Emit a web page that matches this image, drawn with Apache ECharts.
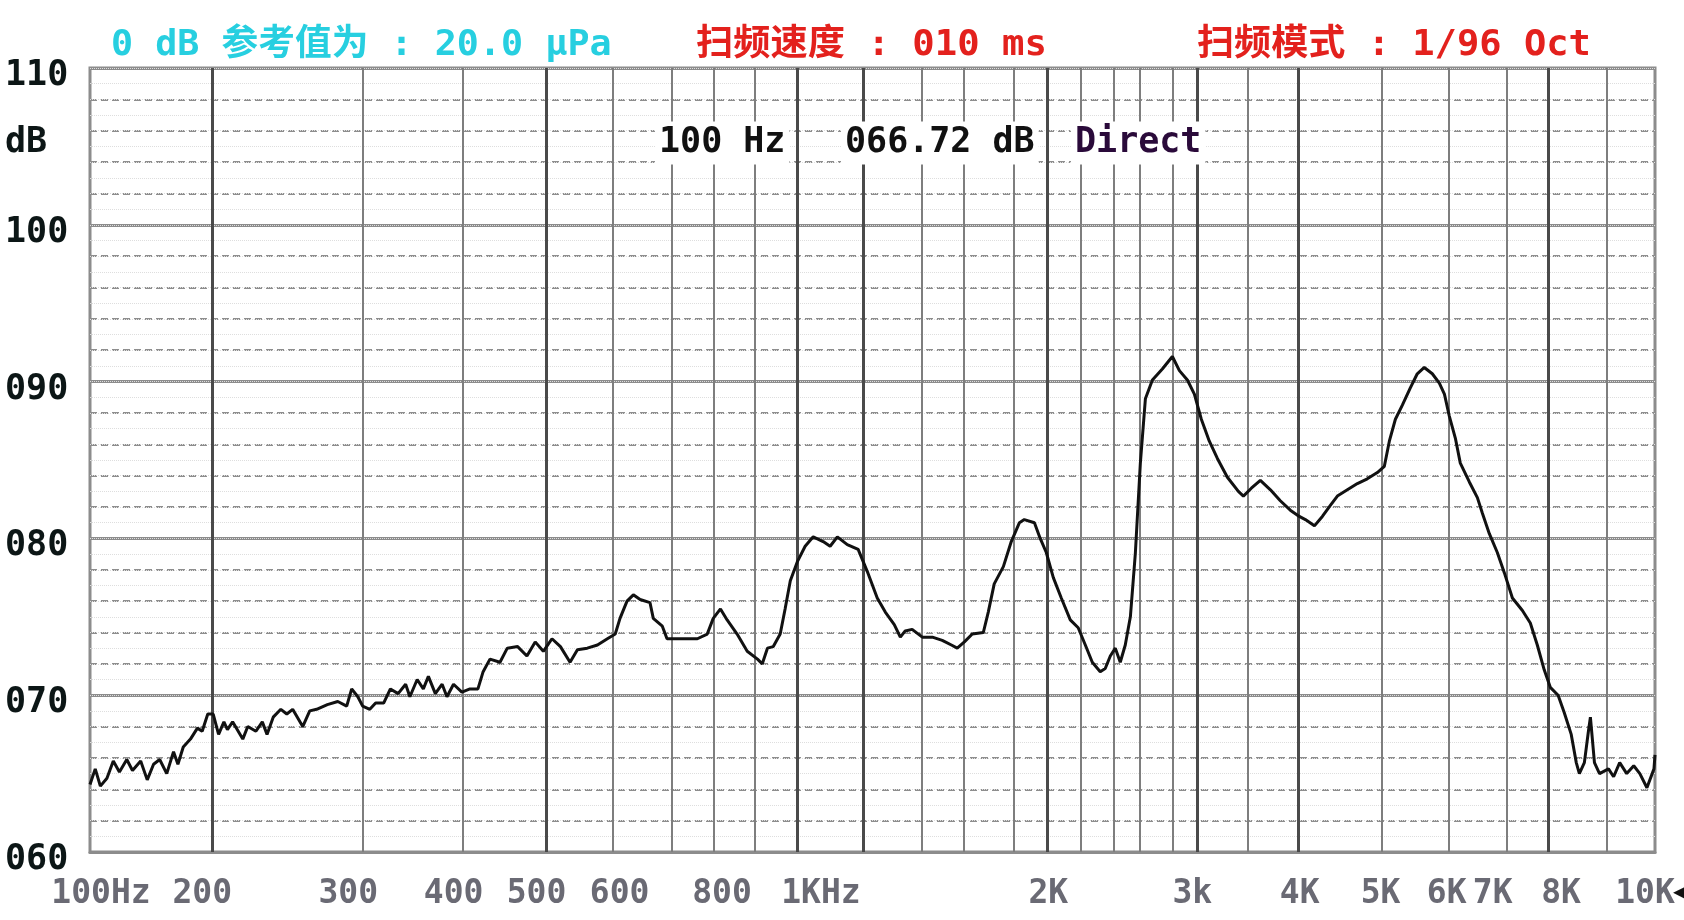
<!DOCTYPE html>
<html><head><meta charset="utf-8">
<script src="https://cdn.jsdelivr.net/npm/echarts@6/dist/echarts.min.js"></script>
<style>html,body{margin:0;padding:0;background:#fff}#c{width:1684px;height:920px}</style>
</head><body><div id="c"></div>
<script>
// Sweep response: [frequency Hz, level dB]
const sweep = [
[100,64.3],[103,65.3],[106,64.2],[110,64.7],[114,65.8],[118,65.1],[123,65.9],[127,65.2],[133,65.8],[138,64.6],
[143,65.6],[148,65.9],[154,65.0],[160,66.4],[164,65.6],[169,66.7],[176,67.2],[183,67.9],[188,67.7],[194,68.8],
[200,68.8],[203,67.5],[206,68.3],[208,67.8],[211,68.3],[217,67.2],[220,68.0],[225,67.7],[229,68.3],[232,67.5],
[236,68.6],[241,69.1],[245,68.8],[249,69.1],[256,68.0],[261,69.0],[266,69.1],[274,69.4],[282,69.6],[289,69.3],
[293,70.4],[298,69.9],[302,69.3],[308,69.1],[313,69.5],[320,69.5],[326,70.4],[333,70.1],[340,70.7],[344,69.9],
[351,71.0],[357,70.4],[362,71.2],[369,70.1],[376,70.7],[381,69.9],[388,70.7],[397,70.2],[406,70.4],[415,70.4],
[421,71.5],[429,72.3],[441,72.1],[450,73.0],[463,73.1],[475,72.5],[486,73.4],[497,72.8],[509,73.6],[521,73.1],
[535,72.1],[546,72.9],[561,73.0],[577,73.2],[593,73.6],[606,73.9],[614,74.9],[626,76.0],[637,76.4],[649,76.1],
[667,75.9],[673,74.9],[690,74.4],[699,73.6],[711,73.6],[739,73.6],[760,73.6],[781,73.9],[794,74.9],[810,75.5],
[825,74.8],[848,73.9],[872,72.8],[897,72.3],[909,72.0],[922,73.0],[937,73.1],[955,73.9],[968,75.5],[982,77.3],
[1001,78.5],[1023,79.5],[1046,80.1],[1075,79.8],[1096,79.5],[1118,80.1],[1149,79.6],[1184,79.3],[1214,77.9],[1248,76.2],
[1276,75.3],[1308,74.5],[1330,73.7],[1348,74.1],[1374,74.2],[1413,73.7],[1453,73.7],[1493,73.5],[1531,73.2],[1556,73.0],
[1587,73.4],[1622,73.9],[1672,74.0],[1695,75.3],[1723,77.1],[1767,78.2],[1806,79.8],[1847,81.0],[1872,81.2],[1925,81.0],
[1956,80.0],[1989,79.1],[2028,77.5],[2073,76.2],[2125,74.8],[2172,74.3],[2215,73.2],[2258,72.1],[2308,71.5],[2340,71.7],
[2373,72.5],[2406,73.0],[2439,72.1],[2473,73.2],[2508,75.0],[2543,79.1],[2578,84.8],[2614,88.9],[2665,90.1],[2739,90.8],
[2816,91.6],[2871,90.7],[2935,90.1],[2992,89.2],[3050,87.6],[3118,86.2],[3188,85.1],[3277,83.9],[3378,83.0],[3425,82.7],
[3501,83.2],[3589,83.7],[3690,83.1],[3792,82.4],[3898,81.8],[3996,81.4],[4063,81.2],[4166,80.8],[4258,81.4],[4353,82.1],
[4438,82.7],[4562,83.1],[4690,83.5],[4820,83.8],[4955,84.2],[5052,84.6],[5122,86.2],[5208,87.6],[5309,88.5],[5427,89.6],
[5532,90.5],[5640,90.9],[5766,90.5],[5879,89.9],[5962,89.2],[6043,87.8],[6144,86.4],[6229,84.8],[6386,83.6],[6529,82.6],
[6620,81.6],[6748,80.3],[6898,79.1],[7034,77.8],[7191,76.2],[7392,75.4],[7555,74.6],[7702,73.2],[7852,71.6],[7983,70.5],
[8122,70.0],[8229,68.9],[8354,67.5],[8445,65.7],[8501,65.0],[8593,65.7],[8668,67.7],[8705,68.6],[8781,65.7],[8877,65.0],
[9050,65.3],[9150,64.8],[9270,65.7],[9411,65.0],[9554,65.5],[9680,65.0],[9828,64.1],[9978,65.3],[10000,66.2]
];
const xTickFreqs  = [100,200,300,400,500,600,800,1000,2000,3000,4000,5000,6000,7000,8000,10000];
const xTickLabels = ['100Hz','200','300','400','500','600','800','1KHz','2K','3k','4K','5K','6K','7K','8K','10K'];
const majorGridFreqs = [100,200,500,1000,1200,2000,3000,4000,8000];
const minorGridFreqs = [300,400,600,700,800,900,1400,1600,1800,2200,2400,2600,2800,3500,5000,6000,7000,9000];
const yMin = 60, yMax = 110, yStep = 10;
const headerRef = '0 dB 参考值为 : 20.0 μPa';
const headerSpeed = '扫频速度 : 010 ms';
const headerMode = '扫频模式 : 1/96 Oct';
const cursorFreq = '100 Hz', cursorLevel = '066.72 dB', cursorMode = 'Direct';

// layout only: horizontal nudge (px) of each x tick label relative to its grid line
const xLabelNudge = [11, -11, -12, -11, -9, 8, 6, 24, 0, -3, 0, 0, 0, -10, 10, -10];

// Analyzer's frequency scale: log10 between 200 Hz and 8 kHz, compressed/stretched end segments
const warpF = [100, 200, 8000, 10000];
const warpU = [Math.log10(142.4), Math.log10(200), Math.log10(8000), Math.log10(10655)];
function U(f) {
  const l = Math.log10(f);
  for (let i = 0; i < warpF.length - 1; i++) {
    const a = Math.log10(warpF[i]), b = Math.log10(warpF[i + 1]);
    if (l <= b || i === warpF.length - 2) {
      return warpU[i] + (l - a) / (b - a) * (warpU[i + 1] - warpU[i]);
    }
  }
}
const MONO = '"DejaVu Sans Mono", "Liberation Mono", monospace';
const FONT = (size) => 'bold ' + size + 'px "DejaVu Sans Mono", "Noto Sans CJK SC", monospace';
const XLAB = { fontSize: 33, fontWeight: 'bold', fontFamily: MONO, color: '#6a6a74' };

const labelIdx = {};
const xRich = {};
xTickFreqs.forEach((f, i) => {
  labelIdx[U(f).toFixed(6)] = i;
  const s = xLabelNudge[i];
  xRich['t' + i] = Object.assign({ padding: s >= 0 ? [0, 0, 0, 2 * s] : [0, -2 * s, 0, 0] }, XLAB);
});

const chart = echarts.init(document.getElementById('c'));
const gridLines = [
  ...minorGridFreqs.map(f => ({ xAxis: U(f), lineStyle: { color: '#7e7e7e', width: 2, type: 'solid' } })),
  ...majorGridFreqs.map(f => ({ xAxis: U(f), lineStyle: { color: '#4a4a4a', width: 3, type: 'solid' } }))
];
chart.setOption({
  animation: false,
  backgroundColor: '#fff',
  grid: { left: 90, right: 29, top: 68, bottom: 68, show: true, borderColor: '#8c8c8c', borderWidth: 3 },
  xAxis: {
    type: 'value', min: U(100), max: U(10000),
    axisLine: { show: true, lineStyle: { color: '#8c8c8c', width: 3 } },
    axisTick: { show: false },
    splitLine: { show: false },
    axisLabel: Object.assign({
      customValues: xTickFreqs.map(U),
      margin: 26,
      formatter: v => {
        const i = labelIdx[Number(v).toFixed(6)];
        return i === undefined ? '' : '{t' + i + '|' + xTickLabels[i] + '}';
      },
      rich: xRich
    }, XLAB)
  },
  yAxis: [{
    type: 'value', min: yMin, max: yMax, interval: yStep,
    axisLine: { show: false }, axisTick: { show: false },
    axisLabel: {
      align: 'left', margin: 85, verticalAlign: 'top', lineHeight: 16,
      fontSize: 35, fontWeight: 'bold', fontFamily: MONO, color: '#0c1616',
      formatter: v => String(v).padStart(3, '0')
    },
    splitLine: { show: true, lineStyle: { color: '#8c8c8c', width: 3 } },
    minorTick: { show: false, splitNumber: 5 },
    minorSplitLine: { show: true, lineStyle: { color: '#8e8e8e', width: 2, type: [7, 4] } }
  }, {
    type: 'value', min: yMin, max: yMax, interval: 1, position: 'right',
    axisLine: { show: false }, axisTick: { show: false }, axisLabel: { show: false },
    splitLine: { show: true, lineStyle: { color: '#dedede', width: 1, type: 'dotted' } }
  }],
  series: [{
    type: 'line', data: [], z: 1, silent: true,
    markLine: { silent: true, symbol: ['none', 'none'], label: { show: false }, animation: false,
      lineStyle: { type: 'solid' }, emphasis: { disabled: true }, data: gridLines }
  }, {
    type: 'line', z: 5, showSymbol: false, silent: true,
    data: sweep.map(p => [U(p[0]), p[1]]),
    lineStyle: { color: '#111', width: 3 }
  }],
  graphic: [
    { type: 'text', x: 111, y: 46, z: 100, scaleX: 1.02, style: { text: headerRef, fill: '#27cfe0', font: FONT(36), verticalAlign: 'middle' } },
    { type: 'text', x: 696, y: 46, z: 100, scaleX: 1.035, style: { text: headerSpeed, fill: '#e3211d', font: FONT(36), verticalAlign: 'middle' } },
    { type: 'text', x: 1197, y: 46, z: 100, scaleX: 1.03, style: { text: headerMode, fill: '#e3211d', font: FONT(36), verticalAlign: 'middle' } },
    { type: 'text', x: 5, y: 143, z: 100, style: { text: 'dB', fill: '#0c1616', font: FONT(35), verticalAlign: 'middle' } },
    { type: 'text', x: 655, y: 143, z: 100, style: { text: cursorFreq, fill: '#111', font: FONT(35), verticalAlign: 'middle', backgroundColor: '#fff', padding: [4, 4] } },
    { type: 'text', x: 841, y: 143, z: 100, style: { text: cursorLevel, fill: '#111', font: FONT(35), verticalAlign: 'middle', backgroundColor: '#fff', padding: [4, 4] } },
    { type: 'text', x: 1071, y: 143, z: 100, style: { text: cursorMode, fill: '#2a0a3a', font: FONT(35), verticalAlign: 'middle', backgroundColor: '#fff', padding: [4, 4] } },
    { type: 'text', x: 1673, y: 893, z: 100, style: { text: '◀', fill: '#111', font: '16px "DejaVu Sans"', verticalAlign: 'middle' } }
  ]
});
</script></body></html>
